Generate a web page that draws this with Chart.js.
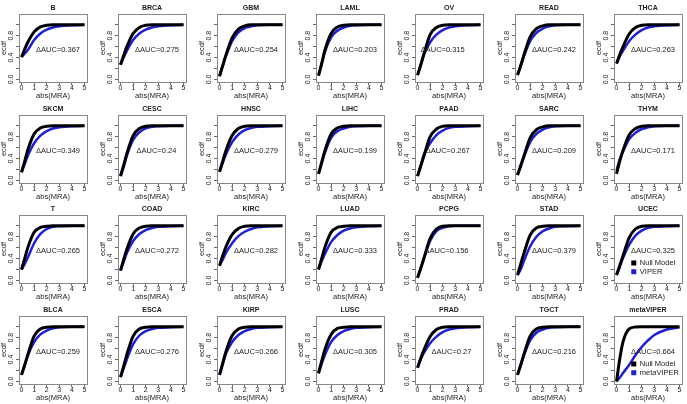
<!DOCTYPE html>
<html>
<head>
<meta charset="utf-8">
<script src="https://cdn.jsdelivr.net/npm/chart.js@4.4.1/dist/chart.umd.min.js"></script>
<style>
  html, body { margin: 0; padding: 0; background: #fff; }
  #wrap { position: relative; width: 687px; height: 404px; overflow: hidden; }
  #wrap canvas { position: absolute; }
</style>
</head>
<body>
<div id="wrap"></div>
<script>
// panels, row by row
const panelNames = ["B", "BRCA", "GBM", "LAML", "OV", "READ", "THCA",
  "SKCM", "CESC", "HNSC", "LIHC", "PAAD", "SARC", "THYM",
  "T", "COAD", "KIRC", "LUAD", "PCPG", "STAD", "UCEC",
  "BLCA", "ESCA", "KIRP", "LUSC", "PRAD", "TGCT", "metaVIPER"];

const deltaAUC = ["0.367", "0.275", "0.254", "0.203", "0.315", "0.242", "0.263",
  "0.349", "0.24", "0.279", "0.199", "0.267", "0.209", "0.171",
  "0.265", "0.272", "0.282", "0.333", "0.156", "0.379", "0.325",
  "0.259", "0.276", "0.266", "0.305", "0.27", "0.216", "0.664"];

// abs(MRA) values where the ecdf was read
const mraPoints = [0, 0.25, 0.5, 1, 1.5, 2, 2.5, 3, 4, 5];

// ecdf of the null model (black)
const nullModel = [
  [0.41, 0.55, 0.68, 0.87, 0.96, 0.99, 1, 1, 1, 1],
  [0.27, 0.44, 0.60, 0.84, 0.95, 0.99, 1, 1, 1, 1],
  [0.06, 0.25, 0.44, 0.76, 0.92, 0.98, 1, 1, 1, 1],
  [0.07, 0.29, 0.53, 0.84, 0.96, 0.99, 1, 1, 1, 1],
  [0.08, 0.26, 0.46, 0.82, 0.95, 0.99, 1, 1, 1, 1],
  [0.08, 0.25, 0.44, 0.78, 0.93, 0.98, 1, 1, 1, 1],
  [0.29, 0.45, 0.59, 0.83, 0.95, 0.99, 1, 1, 1, 1],
  [0.15, 0.35, 0.56, 0.85, 0.96, 0.99, 1, 1, 1, 1],
  [0.08, 0.28, 0.49, 0.82, 0.95, 0.99, 1, 1, 1, 1],
  [0.16, 0.35, 0.54, 0.82, 0.95, 0.99, 1, 1, 1, 1],
  [0.12, 0.33, 0.54, 0.85, 0.96, 0.99, 1, 1, 1, 1],
  [0.08, 0.26, 0.44, 0.80, 0.94, 0.99, 1, 1, 1, 1],
  [0.10, 0.27, 0.44, 0.78, 0.93, 0.98, 1, 1, 1, 1],
  [0.12, 0.35, 0.54, 0.83, 0.95, 0.99, 1, 1, 1, 1],
  [0.20, 0.40, 0.60, 0.88, 0.97, 0.99, 1, 1, 1, 1],
  [0.18, 0.38, 0.57, 0.85, 0.96, 0.99, 1, 1, 1, 1],
  [0.27, 0.45, 0.61, 0.84, 0.95, 0.99, 1, 1, 1, 1],
  [0.20, 0.40, 0.60, 0.88, 0.97, 0.99, 1, 1, 1, 1],
  [0.05, 0.22, 0.40, 0.77, 0.94, 0.99, 1, 1, 1, 1],
  [0.10, 0.30, 0.49, 0.83, 0.96, 0.99, 1, 1, 1, 1],
  [0.10, 0.27, 0.44, 0.78, 0.94, 0.99, 1, 1, 1, 1],
  [0.12, 0.30, 0.49, 0.83, 0.96, 0.99, 1, 1, 1, 1],
  [0.08, 0.28, 0.49, 0.83, 0.96, 0.99, 1, 1, 1, 1],
  [0.12, 0.33, 0.54, 0.84, 0.96, 0.99, 1, 1, 1, 1],
  [0.15, 0.37, 0.58, 0.86, 0.97, 0.99, 1, 1, 1, 1],
  [0.25, 0.42, 0.57, 0.82, 0.95, 0.99, 1, 1, 1, 1],
  [0.12, 0.30, 0.49, 0.83, 0.96, 0.99, 1, 1, 1, 1],
  [0.00, 0.40, 0.71, 0.96, 0.995, 1, 1, 1, 1, 1]
];

// ecdf of VIPER / metaVIPER (blue)
const viperModel = [
  [0.41, 0.47, 0.54, 0.72, 0.84, 0.91, 0.95, 0.97, 0.99, 1],
  [0.27, 0.40, 0.52, 0.72, 0.84, 0.91, 0.95, 0.97, 0.99, 1],
  [0.06, 0.25, 0.42, 0.70, 0.86, 0.94, 0.97, 0.99, 1, 1],
  [0.07, 0.28, 0.50, 0.77, 0.89, 0.95, 0.98, 0.99, 1, 1],
  [0.08, 0.26, 0.45, 0.68, 0.82, 0.90, 0.95, 0.97, 0.99, 1],
  [0.08, 0.25, 0.42, 0.70, 0.85, 0.93, 0.97, 0.99, 1, 1],
  [0.29, 0.42, 0.52, 0.70, 0.82, 0.90, 0.95, 0.97, 0.99, 1],
  [0.15, 0.30, 0.45, 0.68, 0.82, 0.90, 0.95, 0.97, 0.99, 1],
  [0.08, 0.25, 0.45, 0.74, 0.88, 0.95, 0.98, 0.99, 1, 1],
  [0.16, 0.32, 0.47, 0.70, 0.84, 0.92, 0.96, 0.98, 0.99, 1],
  [0.12, 0.31, 0.50, 0.78, 0.90, 0.95, 0.98, 0.99, 1, 1],
  [0.08, 0.27, 0.47, 0.68, 0.83, 0.91, 0.96, 0.98, 0.99, 1],
  [0.10, 0.26, 0.42, 0.70, 0.85, 0.93, 0.97, 0.99, 1, 1],
  [0.18, 0.38, 0.52, 0.75, 0.87, 0.94, 0.97, 0.99, 1, 1],
  [0.20, 0.30, 0.42, 0.68, 0.85, 0.94, 0.98, 0.99, 1, 1],
  [0.18, 0.34, 0.50, 0.72, 0.85, 0.92, 0.96, 0.98, 0.99, 1],
  [0.27, 0.38, 0.50, 0.68, 0.81, 0.89, 0.94, 0.97, 0.99, 1],
  [0.20, 0.35, 0.48, 0.70, 0.83, 0.91, 0.95, 0.97, 0.99, 1],
  [0.05, 0.22, 0.40, 0.72, 0.90, 0.96, 0.99, 1, 1, 1],
  [0.10, 0.20, 0.35, 0.62, 0.80, 0.90, 0.95, 0.98, 0.99, 1],
  [0.10, 0.24, 0.40, 0.65, 0.82, 0.91, 0.96, 0.98, 0.99, 1],
  [0.12, 0.29, 0.47, 0.72, 0.86, 0.93, 0.97, 0.99, 1, 1],
  [0.08, 0.24, 0.40, 0.68, 0.84, 0.92, 0.96, 0.98, 0.99, 1],
  [0.12, 0.31, 0.50, 0.72, 0.85, 0.92, 0.96, 0.98, 0.99, 1],
  [0.15, 0.32, 0.48, 0.72, 0.85, 0.92, 0.96, 0.98, 0.99, 1],
  [0.25, 0.40, 0.52, 0.70, 0.82, 0.90, 0.95, 0.97, 0.99, 1],
  [0.12, 0.29, 0.47, 0.75, 0.89, 0.95, 0.98, 0.99, 1, 1],
  [0.00, 0.07, 0.15, 0.30, 0.48, 0.63, 0.75, 0.85, 0.95, 0.99]
];

const xTicks = [0, 1, 2, 3, 4, 5];
const yTicks = [0, 0.2, 0.4, 0.6, 0.8, 1.0];

// where the ΔAUC text sits (abs(MRA) units)
const aucLabelX = [2.9, 2.9, 2.9, 2.9, 2.0, 2.9, 2.9,
  2.9, 2.85, 2.9, 2.9, 2.4, 2.9, 2.9,
  2.9, 2.9, 2.9, 2.9, 2.3, 2.9, 2.9,
  2.9, 2.9, 2.9, 2.9, 2.7, 2.9, 2.9];

const legendLabels = { 20: ["Null Model", "VIPER"], 27: ["Null Model", "metaVIPER"] };

const FONT = "'Liberation Sans', Arial, Helvetica, sans-serif";
Chart.defaults.font.family = FONT;
Chart.defaults.color = "#222";

const panelDecor = {
  id: "panelDecor",
  afterDraw(chart, args, opts) {
    const { ctx, chartArea: a, scales } = chart;
    ctx.save();
    ctx.strokeStyle = "#888";
    ctx.lineWidth = 1;
    ctx.strokeRect(a.left + 0.5, a.top + 0.5, a.right - a.left, a.bottom - a.top);

    ctx.fillStyle = "#222";
    ctx.textAlign = "center";
    ctx.textBaseline = "middle";
    ctx.font = "bold 7px " + FONT;
    ctx.fillText(opts.name, (a.left + a.right) / 2, 8);

    ctx.font = "7.5px " + FONT;
    ctx.fillText("\u0394AUC=" + opts.auc, scales.x.getPixelForValue(opts.aucX), scales.y.getPixelForValue(0.54));

    if (opts.legend) {
      const cols = ["#000", "#1f1fd6"];
      const rows = [0.32, 0.16];
      ctx.textAlign = "left";
      opts.legend.forEach((txt, i) => {
        const y = scales.y.getPixelForValue(rows[i]);
        const sx = scales.x.getPixelForValue(1.37);
        ctx.fillStyle = cols[i];
        ctx.fillRect(sx - 2.5, y - 2.5, 5, 5);
        ctx.fillStyle = "#222";
        ctx.fillText(txt, scales.x.getPixelForValue(1.85), y);
      });
    }
    ctx.restore();
  }
};

const wrap = document.getElementById("wrap");

panelNames.forEach((name, i) => {
  const col = i % 7, row = Math.floor(i / 7);
  const cv = document.createElement("canvas");
  cv.width = 99;
  cv.height = 101;
  cv.style.left = Math.round(col * 99.1) + "px";
  cv.style.top = Math.round(row * 100.5) + "px";
  wrap.appendChild(cv);

  const toPts = arr => mraPoints.map((x, k) => ({ x: x, y: arr[k] }));

  new Chart(cv, {
    type: "line",
    data: {
      datasets: [
        {
          label: "Null Model",
          data: toPts(nullModel[i]),
          borderColor: "#000",
          borderWidth: 3,
          pointRadius: 0,
          cubicInterpolationMode: "monotone",
        },
        {
          label: i === 27 ? "metaVIPER" : "VIPER",
          data: toPts(viperModel[i]),
          borderColor: "#1f1fd6",
          borderWidth: 2.5,
          pointRadius: 0,
          cubicInterpolationMode: "monotone",
        },
      ],
    },
    options: {
      responsive: false,
      animation: false,
      devicePixelRatio: 1,
      layout: { padding: { left: 0, right: 12, top: 14, bottom: 0 } },
      plugins: {
        legend: { display: false },
        tooltip: { enabled: false },
        panelDecor: { name: name, auc: deltaAUC[i], aucX: aucLabelX[i], legend: legendLabels[i] },
      },
      scales: {
        x: {
          type: "linear",
          min: -0.2,
          max: 5.2,
          afterBuildTicks: s => { s.ticks = xTicks.map(v => ({ value: v })); },
          afterFit: s => { s.height = 19; },
          ticks: { font: { size: 7 }, color: "#222", padding: -1, maxRotation: 0, autoSkip: false },
          grid: { drawOnChartArea: false, tickLength: 3, color: "#666" },
          border: { display: false },
          title: { display: true, text: "abs(MRA)", font: { size: 7.5 }, color: "#222", padding: { top: 0, bottom: 0.5 } },
        },
        y: {
          type: "linear",
          min: -0.046,
          max: 1.196,
          afterBuildTicks: s => { s.ticks = yTicks.map(v => ({ value: v })); },
          afterFit: s => { s.width = 19; },
          ticks: {
            font: { size: 7 },
            color: "#222",
            padding: 0,
            minRotation: 90,
            maxRotation: 90,
            crossAlign: "center",
            autoSkip: false,
            callback: v => (Math.round(v * 10) % 4 === 0 ? v.toFixed(1) : ""),
          },
          grid: { drawOnChartArea: false, tickLength: 3, color: "#666" },
          border: { display: false },
          title: { display: true, text: "ecdf", font: { size: 7.5, lineHeight: 1 }, color: "#222", padding: { top: 0.5, bottom: 0 } },
        },
      },
    },
    plugins: [panelDecor],
  });
});
</script>
</body>
</html>
